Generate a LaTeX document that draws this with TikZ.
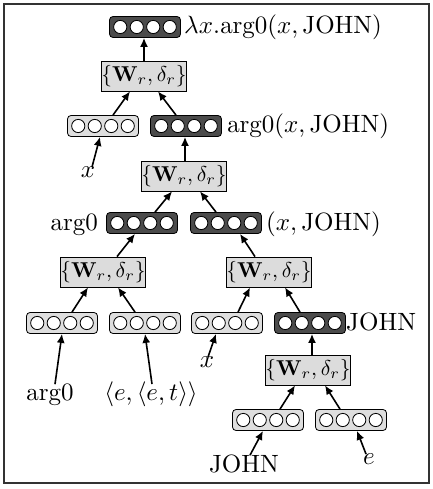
\documentclass[tikz,border=0pt]{standalone}
\usepackage{graphicx}
\usetikzlibrary{arrows.meta,calc}
\definecolor{darkv}{HTML}{4B4B4B}
\definecolor{lightv}{HTML}{DEDEDE}
\definecolor{wbox}{HTML}{DCDCDC}
\tikzset{
  vdark/.style={draw=black, line width=0.8pt, fill=darkv, rounded corners=3.5pt, minimum width=71pt, minimum height=21pt, inner sep=0pt},
  vlight/.style={draw=black, line width=0.8pt, fill=lightv, rounded corners=3.5pt, minimum width=71pt, minimum height=21pt, inner sep=0pt},
  circ/.style={draw=black, line width=0.8pt, fill=white},
  wnode/.style={draw=black, line width=0.8pt, fill=wbox, minimum width=81pt, minimum height=30pt, inner sep=0pt},
  lbl/.style={inner sep=1pt},
  arr/.style={-{Latex[length=9pt,width=8pt]}, line width=1.6pt},
}
\newcommand{\vnode}[3]{%
  \node[#3] (#1) at (#2) {};
  \foreach \dx in {-24.75,-8.25,8.25,24.75}
    \draw[circ] ([xshift=\dx pt]#1.center) circle (6.6pt);
}
\newcommand{\lb}[1]{\scalebox{2.5}{#1}}
\newcommand{\wtext}{\scalebox{2.15}{$\{\mathbf{W}_r,\delta_r\}$}}
\begin{document}
\begin{tikzpicture}[x=1pt,y=-1pt]
\useasboundingbox (0,0) rectangle (432,489);
\draw[line width=1.2pt, black!80] (4,4) rectangle (429,483);

% vectors
\vnode{vtop}{145,27}{vdark}
\vnode{vl1}{103,126}{vlight}
\vnode{vr1}{186,126}{vdark}
\vnode{vA}{142,223}{vdark}
\vnode{vB}{226,223}{vdark}
\vnode{v1}{62,323}{vlight}
\vnode{v2}{145,323}{vlight}
\vnode{v3}{227,323}{vlight}
\vnode{v4}{310,323}{vdark}
\vnode{v5}{268,420}{vlight}
\vnode{v6}{351,420}{vlight}

% W boxes
\node[wnode] (W1) at (144,76) {\wtext};
\node[wnode] (W2) at (184,176) {\wtext};
\node[wnode] (W3) at (103,272) {\wtext};
\node[wnode] (W4) at (269,272) {\wtext};
\node[wnode] (W5) at (308,370) {\wtext};

% side labels
\node[lbl, anchor=base west] (t1) at (183,34) {\lb{$\lambda x.\mathrm{arg0}(x,\mathrm{JOHN})$}};
\node[lbl, anchor=base west] (t2) at (226,133) {\lb{$\mathrm{arg0}(x,\mathrm{JOHN})$}};
\node[lbl, anchor=base east] (t3) at (99,230) {\lb{arg0}};
\node[lbl, anchor=base west] (t4) at (265,230) {\lb{$(x,\mathrm{JOHN})$}};
\node[lbl, anchor=base west] (t5) at (345,330) {\lb{JOHN}};

% leaf labels
\node[lbl, anchor=base] (lx1) at (88,177) {\lb{$x$}};
\node[lbl, anchor=base] (la) at (50,400) {\lb{arg0}};
\node[lbl, anchor=base] (lt) at (151,400) {\lb{$\langle e,\langle e,t\rangle\rangle$}};
\node[lbl, anchor=base] (lx2) at (207,367) {\lb{$x$}};
\node[lbl, anchor=base] (lj) at (244,472) {\lb{JOHN}};
\node[lbl, anchor=base] (le) at (369,464) {\lb{$e$}};

% tree arrows
\draw[arr] (W1.north) -- (W1.north |- vtop.south);
\draw[arr] ([xshift=10pt]vl1.north) -- ([xshift=-14pt]W1.south);
\draw[arr] ([xshift=-10pt]vr1.north) -- ([xshift=14pt]W1.south);
\draw[arr] ([xshift=1pt]W2.north) -- ([xshift=1pt]W2.north |- vr1.south);
\draw[arr] ([xshift=13pt]vA.north) -- ([xshift=-12pt]W2.south);
\draw[arr] ([xshift=-10pt]vB.north) -- ([xshift=16pt]W2.south);
\draw[arr] ([xshift=14pt]W3.north) -- ([xshift=-7pt]vA.south);
\draw[arr] ([xshift=-14pt]W4.north) -- ([xshift=14pt]vB.south);
\draw[arr] ([xshift=10pt]v1.north) -- ([xshift=-15pt]W3.south);
\draw[arr] ([xshift=-10pt]v2.north) -- ([xshift=15pt]W3.south);
\draw[arr] ([xshift=11pt]v3.north) -- ([xshift=-19pt]W4.south);
\draw[arr] ([xshift=-10pt]v4.north) -- ([xshift=16pt]W4.south);
\draw[arr] ([xshift=4pt]W5.north) -- ([xshift=4pt]W5.north |- v4.south);
\draw[arr] ([xshift=12pt]v5.north) -- ([xshift=-13pt]W5.south);
\draw[arr] ([xshift=-11pt]v6.north) -- ([xshift=17pt]W5.south);

% leaf arrows
\draw[arr] ([xshift=4pt,yshift=-2pt]lx1.north) -- ([xshift=-3pt]vl1.south);
\draw[arr] ([xshift=5pt,yshift=-2pt]la.north) -- (v1.south);
\draw[arr] ([xshift=1pt,yshift=-4pt]lt.north) -- (v2.south);
\draw[arr] ([xshift=1pt,yshift=-2pt]lx2.north) -- ([xshift=-11pt]v3.south);
\draw[arr] ([xshift=6pt,yshift=-2pt]lj.north) -- ([xshift=-5pt]v5.south);
\draw[arr] ([xshift=-3pt,yshift=-2pt]le.north) -- ([xshift=6pt]v6.south);
\end{tikzpicture}
\end{document}
